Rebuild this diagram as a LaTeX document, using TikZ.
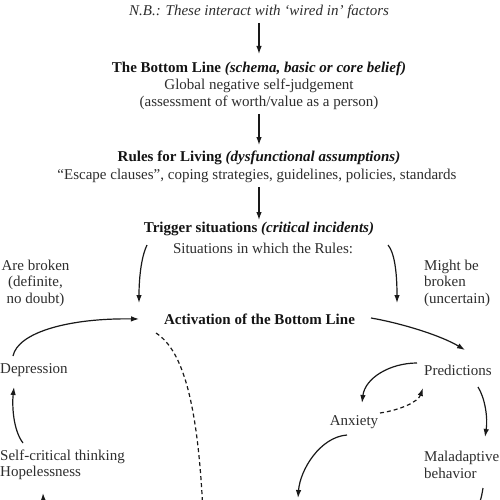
\documentclass[tikz,border=0pt]{standalone}
\usepackage{fontspec}
\setmainfont{Liberation Serif}
\usetikzlibrary{arrows.meta}
\begin{document}
\begin{tikzpicture}[x=1pt,y=-1pt,
  txt/.style={inner sep=0pt, font=\fontsize{15}{16.5}\selectfont, text=black!82},
  hd/.style={inner sep=0pt, font=\fontsize{15}{16.5}\selectfont\bfseries, text=black!92},
  arr/.style={line width=1.2pt, draw=black!90, -{Latex[length=8pt,width=5.5pt]}},
  plain/.style={line width=1.2pt, draw=black!90},
  dsh/.style={dash pattern=on 4pt off 3pt},
]
\useasboundingbox (0,0) rectangle (500,500);
\clip (0,0) rectangle (500,500);
\fill[white] (0,0) rectangle (500,500);

% texts
\node[txt, font=\fontsize{15}{16.5}\selectfont\itshape] (nb) at (259,12) {N.B.: These interact with ‘wired in’ factors};
\node[hd] (bl) at (259,69) {The Bottom Line \textit{(schema, basic or core belief)}};
\node[txt] (gn) at (259,86) {Global negative self-judgement};
\node[txt] (as) at (259,103) {(assessment of worth/value as a person)};
\node[hd] (rl) at (259,158) {Rules for Living \textit{(dysfunctional assumptions)}};
\node[txt] (ec) at (257,176) {“Escape clauses”, coping strategies, guidelines, policies, standards};
\node[hd] (tr) at (259,229) {Trigger situations \textit{(critical incidents)}};
\node[txt] (si) at (263,248) {Situations in which the Rules:};
\node[txt, align=center] (ab) at (35.5,283) {Are broken\\(definite,\\no doubt)};
\node[txt, align=left, anchor=west] (mb) at (424,283) {Might be\\broken\\(uncertain)};
\node[hd] (act) at (259.5,319) {Activation of the Bottom Line};
\node[txt, anchor=west] (dep) at (0,370) {Depression};
\node[txt, anchor=west] (pred) at (424,370) {Predictions};
\node[txt] (anx) at (354,422) {Anxiety};
\node[txt, align=left, anchor=west] (mal) at (424,465) {Maladaptive\\behavior};
\node[txt, align=left, anchor=west] (sc) at (0,465) {Self-critical thinking\\Hopelessness};

% connector end points
\coordinate (a1s) at (259,23);  \coordinate (a1e) at (259,54);
\coordinate (a2s) at (259,114); \coordinate (a2e) at (259,145);
\coordinate (a3s) at (259,187); \coordinate (a3e) at (259,220);
\coordinate (ls) at (147,245);  \coordinate (le) at (139,303);
\coordinate (rs) at (388,245);  \coordinate (re) at (397,303);
\coordinate (acts) at (371,318); \coordinate (predt) at (465,350);
\coordinate (deps) at (13,356); \coordinate (actt) at (139,319);
\coordinate (dshs) at (156,333); \coordinate (dshe) at (204,540);
\coordinate (preds) at (417,363); \coordinate (anxt) at (362,403);
\coordinate (anxs) at (380,413); \coordinate (predb) at (423,388);
\coordinate (predr) at (478,387); \coordinate (malt) at (485,437);
\coordinate (anxd) at (347,435); \coordinate (anxo) at (298,498);
\coordinate (mals) at (483,488); \coordinate (malo) at (470,525);
\coordinate (scs) at (23,443);  \coordinate (dept) at (14,387);
\coordinate (bots) at (45,545); \coordinate (sct) at (43,493);

% connectors
\draw[arr] (a1s) -- (a1e);
\draw[arr] (a2s) -- (a2e);
\draw[arr] (a3s) -- (a3e);
\draw[arr] (ls) .. controls (142,255) and (139,275) .. (le);
\draw[arr] (rs) .. controls (394,252) and (397,270) .. (re);
\draw[arr] (acts) .. controls (400,323) and (440,335) .. (predt);
\draw[arr] (deps) .. controls (18,332) and (70,318) .. (actt);
\draw[plain, dsh] (dshs) .. controls (182,350) and (200,400) .. (dshe);
\draw[arr] (preds) .. controls (390,363) and (365,378) .. (anxt);
\draw[arr, dsh] (anxs) .. controls (400,410) and (418,402) .. (predb);
\draw[arr] (predr) .. controls (485,398) and (488,418) .. (malt);
\draw[arr] (anxd) .. controls (320,437) and (300,470) .. (anxo);
\draw[plain] (mals) .. controls (481,500) .. (malo);
\draw[arr] (scs) .. controls (13,430) and (12,405) .. (dept);
\draw[arr] (bots) -- (sct);
\end{tikzpicture}
\end{document}
